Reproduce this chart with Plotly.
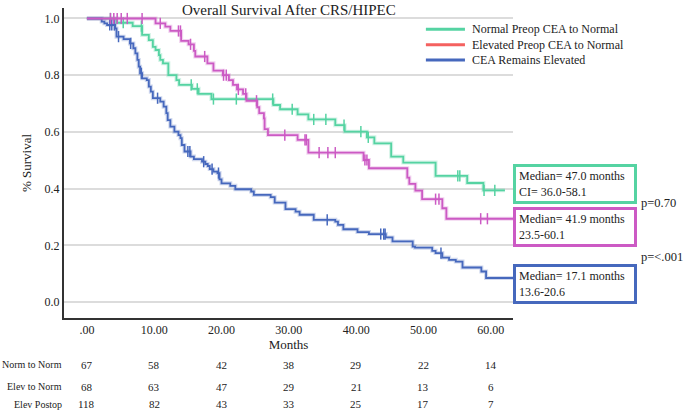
import numpy as np
import plotly.graph_objects as go

# ---------------- data ----------------
norm_t = [0, 4.4, 6.8, 8.2, 9.2, 9.8, 10.2, 10.7, 10.9, 11.3, 12.1, 13.3, 13.7, 15.6, 16.6, 18.5,
          27.7, 28.7, 31.3, 32.9, 36.9, 38.3, 41.6, 42.7, 45.2, 47.0, 51.8, 56.5, 58.9]
norm_s = [1.0, 0.985, 0.973, 0.942, 0.924, 0.900, 0.889, 0.871, 0.854, 0.842, 0.800, 0.783, 0.766, 0.752, 0.734, 0.716,
          0.695, 0.680, 0.662, 0.644, 0.624, 0.601, 0.581, 0.560, 0.513, 0.492, 0.445, 0.420, 0.394]
norm_end = 62.1
norm_cens = [3.5, 5.4, 8.1, 15.5, 16.4, 18.8, 22.2, 27.6, 30.5, 33.7, 35.5, 38.2, 40.7, 41.8, 55.1, 55.4, 59.0, 60.6]

elev_t = [0, 10.2, 11.65, 12.4, 14.0, 15.1, 15.9, 16.1, 17.9, 18.8, 20.2, 21.1, 21.7, 22.3, 23.2, 23.7,
          25.3, 25.6, 26.3, 26.4, 26.9, 31.3, 32.9, 41.1, 41.9, 47.6, 47.9, 48.8, 49.8, 52.8, 53.4]
elev_s = [1.0, 0.983, 0.971, 0.956, 0.921, 0.909, 0.886, 0.866, 0.842, 0.816, 0.800, 0.783, 0.766, 0.750, 0.734, 0.710,
          0.687, 0.666, 0.648, 0.610, 0.589, 0.572, 0.527, 0.501, 0.472, 0.439, 0.417, 0.393, 0.363, 0.331, 0.294]
elev_end = 63.3
elev_cens = [3.5, 4.0, 4.5, 5.1, 6.0, 8.2, 10.9, 13.6, 13.9, 15.4, 17.5, 20.3, 20.7, 22.5, 23.6, 25.2,
             29.4, 32.4, 32.6, 34.5, 35.8, 36.9, 41.3, 41.6, 51.8, 52.3, 58.5, 59.5]

post_t = [0, 2.2, 2.6, 3.0, 4.2, 4.4, 5.45, 6.4, 6.9, 7.2, 7.5, 7.7, 7.9, 8.2, 8.9, 9.2, 9.5, 9.8, 10.9, 11.4,
          11.8, 12.0, 12.4, 13.0, 13.6, 13.9, 14.1, 14.5, 15.4, 15.9, 17.1, 17.6, 17.95, 18.25, 18.8, 19.4, 19.7,
          20.0, 21.3, 22.05, 24.4, 24.8, 27.3, 27.9, 29.5, 31.0, 31.6, 33.7, 36.9, 37.3, 38.1, 40.2, 41.9, 44.4,
          45.4, 48.4, 48.75, 51.3, 51.8, 52.8, 53.8, 54.8, 55.8, 58.6, 59.3]
post_s = [1.0, 0.989, 0.983, 0.977, 0.965, 0.936, 0.927, 0.912, 0.895, 0.877, 0.854, 0.830, 0.807, 0.789, 0.783,
          0.760, 0.742, 0.719, 0.707, 0.689, 0.666, 0.642, 0.619, 0.601, 0.589, 0.578, 0.554, 0.531, 0.513, 0.504,
          0.495, 0.487, 0.480, 0.469, 0.460, 0.455, 0.433, 0.419, 0.410, 0.398, 0.390, 0.378, 0.370, 0.351, 0.328,
          0.319, 0.308, 0.290, 0.284, 0.272, 0.257, 0.247, 0.240, 0.228, 0.214, 0.196, 0.192, 0.181, 0.173, 0.157,
          0.149, 0.143, 0.122, 0.108, 0.085]
post_end = 63.3
post_cens = [3.4, 3.7, 4.1, 4.7, 6.5, 8.1, 10.5, 15.0, 15.3, 17.35, 18.6, 19.55, 35.7, 43.65, 44.1, 44.3, 52.6]

legend_names = ["Normal Preop CEA to Normal", "Elevated Preop CEA to Normal", "CEA Remains Elevated"]
median_texts = ["Median= 47.0 months<br>CI= 36.0-58.1",
                "Median= 41.9 months<br>23.5-60.1",
                "Median= 17.1 months<br>13.6-20.6"]
p_texts = ["p=0.70", "p=<.001"]

x_ticks = [0, 10, 20, 30, 40, 50, 60]
x_ticktext = [".00", "10.00", "20.00", "30.00", "40.00", "50.00", "60.00"]
y_ticks = [0.0, 0.2, 0.4, 0.6, 0.8, 1.0]

risk_times = [0, 10, 20, 30, 40, 50, 60]
risk_norm = [67, 58, 42, 38, 29, 22, 14]
risk_elev = [68, 63, 47, 29, 21, 13, 6]
risk_post = [118, 82, 43, 33, 25, 17, 7]
risk_labels = ["Norm to Norm", "Elev to Norm", "Elev Postop"]

# ---------------- style ----------------
GREEN = "#55d3a2"
PINK = "#cc5ac4"
BLUE = "#4668bd"
LEG_RED = "#f4615f"
FONT = "Times New Roman, Liberation Serif, serif"
TXT = "#222222"

fig = go.Figure()


def step_value(ts, ss, t):
    idx = np.searchsorted(np.array(ts), t, side="right") - 1
    return np.array(ss)[idx]


def add_curve(ts, ss, end, cens, color, name):
    xs = list(ts) + [end]
    ys = list(ss) + [ss[-1]]
    fig.add_trace(go.Scatter(x=xs, y=ys, mode="lines", line=dict(color=color, width=4, shape="hv"),
                             opacity=0.25, showlegend=False, hoverinfo="skip"))
    fig.add_trace(go.Scatter(x=xs, y=ys, mode="lines", line=dict(color=color, width=1.8, shape="hv"),
                             name=name, showlegend=False))
    cy = step_value(ts, ss, cens)
    fig.add_trace(go.Scatter(x=cens, y=cy, mode="markers",
                             marker=dict(symbol="line-ns", size=8, line=dict(color=color, width=1.5)),
                             showlegend=False, hoverinfo="skip"))


add_curve(norm_t, norm_s, norm_end, norm_cens, GREEN, legend_names[0])
add_curve(post_t, post_s, post_end, post_cens, BLUE, legend_names[2])
add_curve(elev_t, elev_s, elev_end, elev_cens, PINK, legend_names[1])

annotations = []
shapes = []
# title
annotations.append(dict(text="Overall Survival After CRS/HIPEC", xref="paper", yref="paper",
                        x=0.5, y=1.025, xanchor="center", yanchor="top", showarrow=False,
                        font=dict(family=FONT, size=15, color=TXT)))

# legend (drawn as key lines + labels)
legend_colors = [GREEN, LEG_RED, BLUE]
legend_y = [0.9313, 0.8816, 0.8323]
for name, col, yy in zip(legend_names, legend_colors, legend_y):
    shapes.append(dict(type="line", xref="paper", yref="paper", x0=0.806, x1=0.893, y0=yy, y1=yy,
                       line=dict(color=col, width=3)))
    annotations.append(dict(text=name, xref="paper", yref="paper", x=0.904, y=yy, xanchor="left",
                            yanchor="middle", showarrow=False,
                            font=dict(family=FONT, size=12, color=TXT)))

# median boxes
box_colors = [GREEN, PINK, BLUE]
box_y = [0.432, 0.2925, 0.111]
for txt, col, yy in zip(median_texts, box_colors, box_y):
    annotations.append(dict(text=txt, xref="paper", yref="paper", x=1.0, y=yy, xanchor="left",
                            yanchor="middle", showarrow=False, align="left", width=112, height=28,
                            bordercolor=col, borderwidth=3, borderpad=3, bgcolor="white",
                            font=dict(family=FONT, size=12, color=TXT)))

# p values
for txt, yy in zip(p_texts, [0.371, 0.197]):
    annotations.append(dict(text=txt, xref="paper", yref="paper", x=1.281, y=yy, xanchor="left",
                            yanchor="middle", showarrow=False,
                            font=dict(family=FONT, size=12.5, color=TXT)))

# numbers at risk
row_y = [-0.151, -0.222, -0.279]
for lab, vals, yy in zip(risk_labels, [risk_norm, risk_elev, risk_post], row_y):
    annotations.append(dict(text=lab, xref="paper", yref="paper", x=-0.001, y=yy, xanchor="right",
                            yanchor="middle", showarrow=False,
                            font=dict(family=FONT, size=10, color=TXT)))
    for t, v in zip(risk_times, vals):
        annotations.append(dict(text=str(v), xref="x", yref="paper", x=t, y=yy, xanchor="center",
                                yanchor="middle", showarrow=False,
                                font=dict(family=FONT, size=11, color=TXT)))

fig.update_layout(
    width=685, height=411,
    margin=dict(l=64, r=172, t=8, b=93),
    paper_bgcolor="white", plot_bgcolor="white",
    font=dict(family=FONT, size=12, color=TXT),
    annotations=annotations,
    shapes=shapes,
    showlegend=False,
    xaxis=dict(range=[-3.4, 63.3], tickvals=x_ticks, ticktext=x_ticktext, showgrid=False,
               zeroline=False, showline=True, linecolor="#333333", linewidth=2, ticks="",
               tickfont=dict(family=FONT, size=12, color=TXT),
               title=dict(text="Months", font=dict(family=FONT, size=13, color=TXT), standoff=2)),
    yaxis=dict(range=[-0.056, 1.037], tickvals=y_ticks, tickformat=".1f", showgrid=True,
               gridcolor="#dcdcdc", gridwidth=1.5, zeroline=False, showline=True,
               linecolor="#333333", linewidth=2, ticks="",
               tickfont=dict(family=FONT, size=12, color=TXT),
               title=dict(text="% Survival", font=dict(family=FONT, size=13, color=TXT), standoff=10)),
)

fig.write_html("out.html", config={"displayModeBar": False},
               post_script="document.body.style.margin='0';document.body.style.padding='0';")
